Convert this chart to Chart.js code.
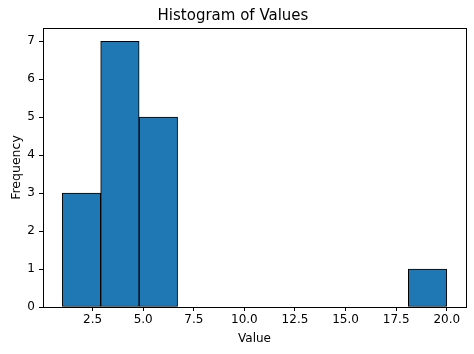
<!DOCTYPE html>
<html><head><meta charset="utf-8">
<script src="https://cdn.jsdelivr.net/npm/chart.js@4"></script>
<style>html,body{margin:0;padding:0;background:#fff}#wrap{width:474px;height:354px}</style>
</head><body><div id="wrap"><canvas id="c" width="474" height="354"></canvas></div>
<script>
const binEdges = [1.0, 2.9, 4.8, 6.7, 8.6, 10.5, 12.4, 14.3, 16.2, 18.1, 20.0];
const counts = [3, 7, 5, 0, 0, 0, 0, 0, 0, 1];
const xTicks = [2.5, 5.0, 7.5, 10.0, 12.5, 15.0, 17.5, 20.0];
const yTicks = [0, 1, 2, 3, 4, 5, 6, 7];

const points = counts.map((c, i) => ({x: (binEdges[i] + binEdges[i+1]) / 2, y: c}));
const FONT = 'DejaVu Sans';

const frame = {
  id: 'frame',
  afterDatasetsDraw(chart) {
    const a = chart.chartArea, ctx = chart.ctx;
    ctx.save();
    ctx.strokeStyle = '#000';
    ctx.lineWidth = 1;
    ctx.strokeRect(Math.round(a.left) + 0.5, Math.round(a.top) + 0.5, Math.round(a.right - a.left), Math.round(a.bottom - a.top));
    ctx.restore();
  }
};

new Chart(document.getElementById('c'), {
  type: 'bar',
  data: { datasets: [{ data: points, backgroundColor: '#1f77b4', borderColor: '#000', borderWidth: 1, borderSkipped: false, barPercentage: 1, categoryPercentage: 1 }] },
  options: {
    responsive: false, animation: false,
    layout: { padding: { left: 0, right: 8, top: 0, bottom: 0 } },
    plugins: {
      legend: { display: false }, tooltip: { enabled: false },
      title: { display: true, text: 'Histogram of Values', color: '#000', font: { family: FONT, size: 15, weight: 'normal' }, padding: { top: 7, bottom: 3 } }
    },
    scales: {
      x: {
        type: 'linear', min: 0.05, max: 20.95, offset: false,
        afterBuildTicks: s => { s.ticks = xTicks.map(v => ({value: v})); },
        afterFit: s => { s.height = 47; },
        ticks: { color: '#000', font: { family: FONT, size: 12 }, padding: 2, maxRotation: 0, callback: v => v.toFixed(1) },
        grid: { display: true, offset: false, drawOnChartArea: false, drawTicks: true, tickLength: 4, color: '#000' },
        border: { display: true, color: '#000' },
        title: { display: true, text: 'Value', color: '#000', font: { family: FONT, size: 12 }, padding: { top: 8, bottom: 8 } }
      },
      y: {
        type: 'linear', min: 0, max: 7.35,
        afterBuildTicks: s => { s.ticks = yTicks.map(v => ({value: v})); },
        afterFit: s => { s.width = 43; },
        ticks: { color: '#000', font: { family: FONT, size: 12 }, padding: 4, callback: v => String(v) },
        grid: { display: true, drawOnChartArea: false, drawTicks: true, tickLength: 4, color: '#000' },
        border: { display: true, color: '#000' },
        title: { display: true, text: 'Frequency', color: '#000', font: { family: FONT, size: 12.5 }, padding: { top: 9, bottom: 9 } }
      }
    }
  },
  plugins: [frame]
});
</script></body></html>
